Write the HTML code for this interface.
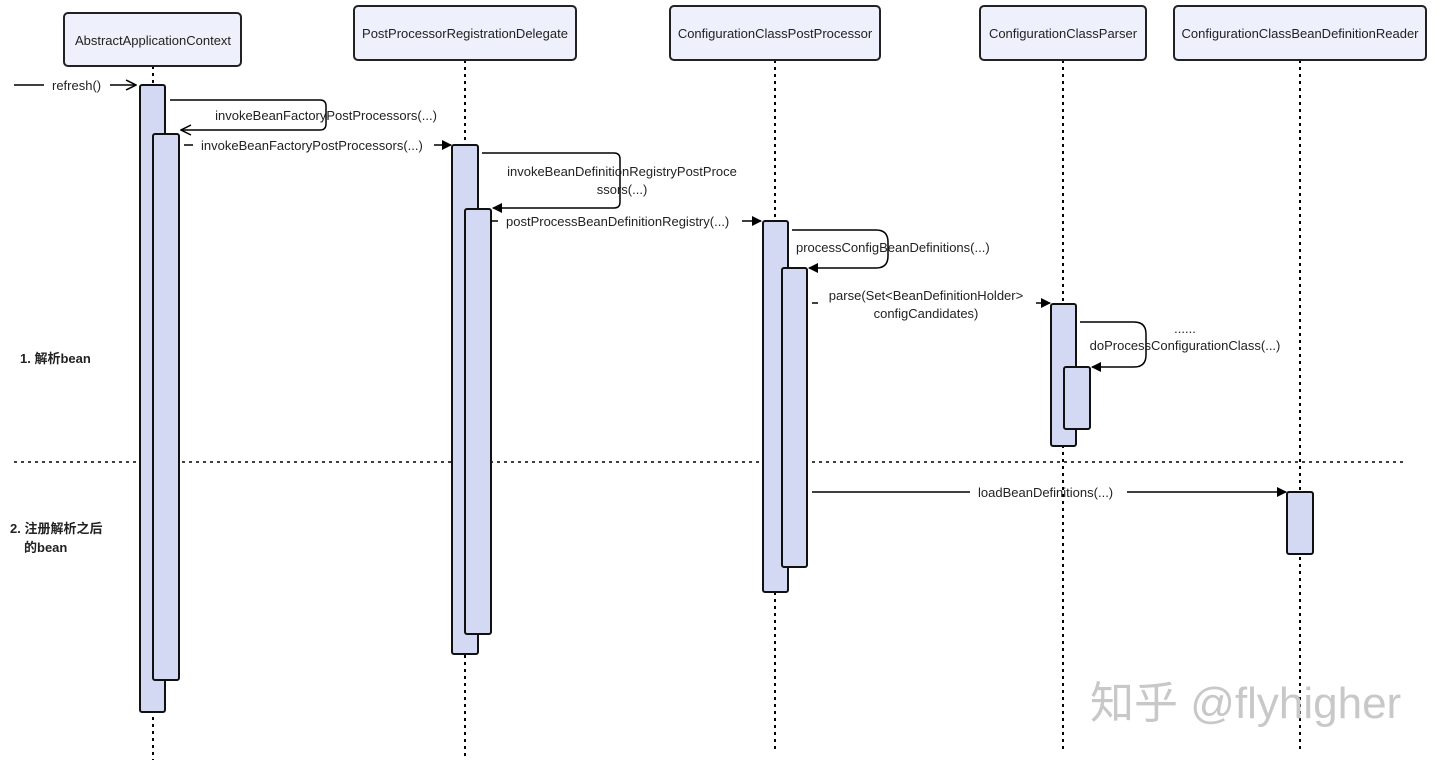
<!DOCTYPE html>
<html><head><meta charset="utf-8"><style>
html,body{margin:0;padding:0;background:#fff;}
svg text{font-family:"Liberation Sans","Noto Sans CJK SC",sans-serif;font-size:13px;fill:#222;}
</style></head><body>
<svg width="1440" height="768" viewBox="0 0 1440 768" xmlns="http://www.w3.org/2000/svg">
<defs>
<marker id="f" markerWidth="10" markerHeight="10" refX="9" refY="5" orient="auto" markerUnits="userSpaceOnUse"><path d="M0,0 L10,5 L0,10 z" fill="#000"/></marker>
<marker id="o" markerWidth="12" markerHeight="12" refX="11" refY="6" orient="auto" markerUnits="userSpaceOnUse"><path d="M1,1 L11,6 L1,11" fill="none" stroke="#000" stroke-width="1.5"/></marker>
</defs>
<!-- lifelines -->
<g stroke="#000" stroke-width="2" stroke-dasharray="3,4">
<line x1="153" y1="66" x2="153" y2="760"/>
<line x1="465" y1="60" x2="465" y2="760"/>
<line x1="775" y1="60" x2="775" y2="752"/>
<line x1="1063" y1="60" x2="1063" y2="752"/>
<line x1="1300" y1="60" x2="1300" y2="752"/>
<line x1="14" y1="462" x2="1405" y2="462" stroke-width="1.5"/>
</g>
<!-- headers -->
<g fill="#eef1fb" stroke="#222" stroke-width="2">
<rect x="64" y="13" width="177" height="53" rx="4"/>
<rect x="354" y="6" width="222" height="54" rx="4"/>
<rect x="670" y="6" width="210" height="54" rx="4"/>
<rect x="980" y="6" width="166" height="54" rx="4"/>
<rect x="1174" y="6" width="252" height="54" rx="4"/>
</g>
<g text-anchor="middle">
<text x="153" y="45">AbstractApplicationContext</text>
<text x="465" y="38">PostProcessorRegistrationDelegate</text>
<text x="775" y="38">ConfigurationClassPostProcessor</text>
<text x="1063" y="38">ConfigurationClassParser</text>
<text x="1300" y="38">ConfigurationClassBeanDefinitionReader</text>
</g>
<!-- activations -->
<g fill="#d3d9f2" stroke="#111" stroke-width="2">
<rect x="140" y="85" width="25" height="627" rx="2"/>
<rect x="153" y="134" width="26" height="546" rx="2"/>
<rect x="452" y="145" width="26" height="509" rx="2"/>
<rect x="465" y="209" width="26" height="425" rx="2"/>
<rect x="763" y="221" width="25" height="371" rx="2"/>
<rect x="782" y="268" width="25" height="299" rx="2"/>
<rect x="1051" y="304" width="25" height="142" rx="2"/>
<rect x="1064" y="367" width="26" height="62" rx="2"/>
<rect x="1287" y="492" width="26" height="62" rx="2"/>
</g>
<!-- messages -->
<g stroke="#000" stroke-width="1.5" fill="none">
<line x1="14" y1="85" x2="44" y2="85"/>
<line x1="110" y1="85" x2="136" y2="85" marker-end="url(#o)"/>
<path d="M170,100 H320 Q326,100 326,106 V124 Q326,130 320,130 H181" marker-end="url(#o)"/>
<line x1="184" y1="145" x2="193" y2="145"/>
<line x1="434" y1="145" x2="451" y2="145" marker-end="url(#f)"/>
<path d="M482,153 H614 Q620,153 620,159 V202 Q620,208 614,208 H493" marker-end="url(#f)"/>
<line x1="491" y1="221" x2="498" y2="221"/>
<line x1="742" y1="221" x2="761" y2="221" marker-end="url(#f)"/>
<path d="M792,230 H876 Q888,230 888,242 V256 Q888,268 876,268 H809" marker-end="url(#f)"/>
<line x1="812" y1="303" x2="818" y2="303"/>
<line x1="1036" y1="303" x2="1050" y2="303" marker-end="url(#f)"/>
<path d="M1080,322 H1134 Q1146,322 1146,334 V355 Q1146,367 1134,367 H1092" marker-end="url(#f)"/>
<line x1="812" y1="492" x2="970" y2="492"/>
<line x1="1127" y1="492" x2="1286" y2="492" marker-end="url(#f)"/>
</g>
<text x="52" y="90">refresh()</text>
<text x="326" y="120" text-anchor="middle">invokeBeanFactoryPostProcessors(...)</text>
<text x="201" y="150">invokeBeanFactoryPostProcessors(...)</text>
<text x="622" y="176" text-anchor="middle">invokeBeanDefinitionRegistryPostProce</text>
<text x="622" y="194" text-anchor="middle">ssors(...)</text>
<text x="506" y="226">postProcessBeanDefinitionRegistry(...)</text>
<text x="796" y="252">processConfigBeanDefinitions(...)</text>
<text x="926" y="300" text-anchor="middle">parse(Set&lt;BeanDefinitionHolder&gt;</text>
<text x="926" y="318" text-anchor="middle">configCandidates)</text>
<text x="1185" y="333" text-anchor="middle">......</text>
<text x="1185" y="350" text-anchor="middle">doProcessConfigurationClass(...)</text>
<text x="978" y="497">loadBeanDefinitions(...)</text>
<text x="20" y="363" style="font-weight:bold">1. 解析bean</text>
<text x="10" y="533" style="font-weight:bold">2. 注册解析之后</text>
<text x="24" y="552" style="font-weight:bold">的bean</text>
<text x="1090" y="718" style="font-size:44px;fill:#c8c8c8;">知乎 @flyhigher</text>
</svg>
</body></html>
